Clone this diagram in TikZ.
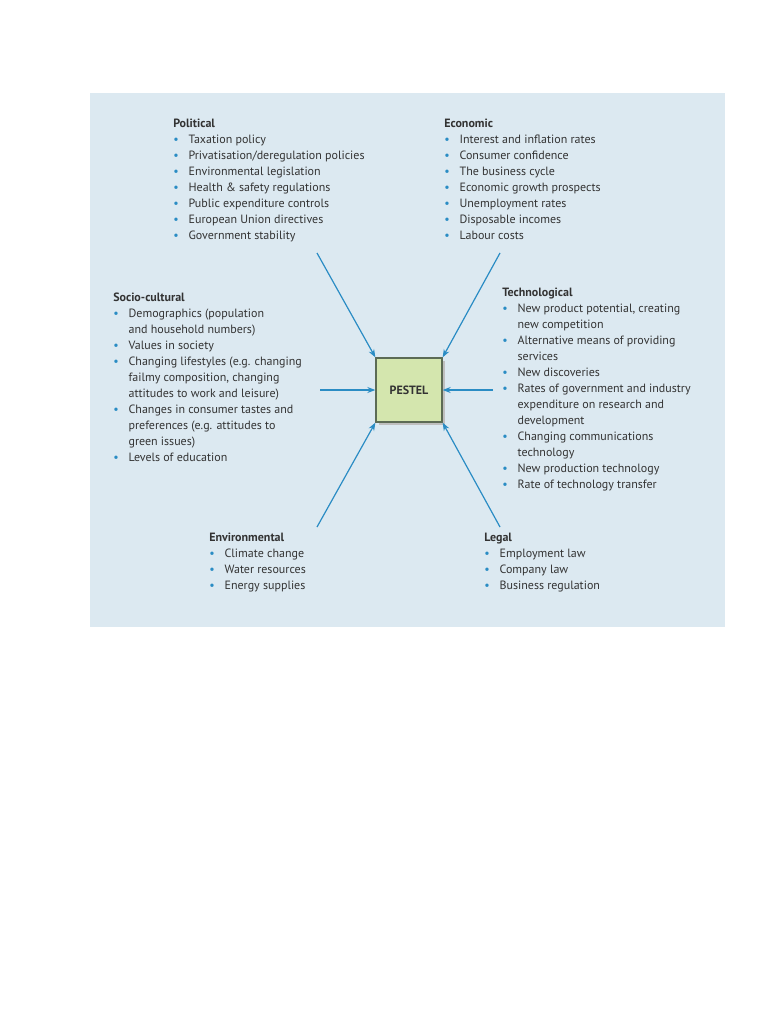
\documentclass[tikz,border=0pt]{standalone}
\usepackage{fontspec}
\setmainfont{PT Sans}
\usetikzlibrary{arrows.meta}
\definecolor{panel}{HTML}{DCE9F1}
\definecolor{bluel}{HTML}{2A8CC4}
\definecolor{boxg}{HTML}{D4E6AE}
\definecolor{boxb}{HTML}{5C6B55}
\definecolor{txt}{HTML}{333333}
\newcommand{\bl}[1]{\makebox[11.5pt][l]{\textcolor{bluel}{\raisebox{0.5pt}{\small•}}}#1}
\newcommand{\cl}[1]{\hspace*{11.5pt}#1}
\begin{document}
\begin{tikzpicture}[x=0.75pt,y=-0.75pt,
  blk/.style={anchor=north west,align=left,inner sep=0pt,font=\fontsize{9}{12}\selectfont,text=txt},
  arr/.style={-{Stealth[length=6pt,width=4.5pt]},draw=bluel,line width=0.9pt}]
\useasboundingbox (0,0) rectangle (768,1024);
\fill[white] (0,0) rectangle (768,1024);
\fill[panel] (90,93) rectangle (725,627);
\fill[black!25] (379,361) rectangle (445,425);
\node[draw=boxb,fill=boxg,line width=1pt,minimum width=49.5pt,minimum height=48pt,inner sep=0pt,font=\bfseries\fontsize{9}{11}\selectfont,text=black!80] (p) at (409,390) {PESTEL};
\node[blk] (pol) at (173,119) {\textbf{Political}\\\bl{Taxation policy}\\\bl{Privatisation/deregulation policies}\\\bl{Environmental legislation}\\\bl{Health \& safety regulations}\\\bl{Public expenditure controls}\\\bl{European Union directives}\\\bl{Government stability}};
\node[blk] (eco) at (444,119) {\textbf{Economic}\\\bl{Interest and inflation rates}\\\bl{Consumer confidence}\\\bl{The business cycle}\\\bl{Economic growth prospects}\\\bl{Unemployment rates}\\\bl{Disposable incomes}\\\bl{Labour costs}};
\node[blk] (soc) at (113,293) {\textbf{Socio-cultural}\\\bl{Demographics (population}\\\cl{and household numbers)}\\\bl{Values in society}\\\bl{Changing lifestyles (e.g. changing}\\\cl{failmy composition, changing}\\\cl{attitudes to work and leisure)}\\\bl{Changes in consumer tastes and}\\\cl{preferences (e.g. attitudes to}\\\cl{green issues)}\\\bl{Levels of education}};
\node[blk] (tec) at (502,288) {\textbf{Technological}\\\bl{New product potential, creating}\\\cl{new competition}\\\bl{Alternative means of providing}\\\cl{services}\\\bl{New discoveries}\\\bl{Rates of government and industry}\\\cl{expenditure on research and}\\\cl{development}\\\bl{Changing communications}\\\cl{technology}\\\bl{New production technology}\\\bl{Rate of technology transfer}};
\node[blk] (env) at (209,533) {\textbf{Environmental}\\\bl{Climate change}\\\bl{Water resources}\\\bl{Energy supplies}};
\node[blk] (leg) at (484,533) {\textbf{Legal}\\\bl{Employment law}\\\bl{Company law}\\\bl{Business regulation}};
\coordinate (a1) at (317,253); \coordinate (a2) at (500,253);
\coordinate (a3) at (320,390); \coordinate (a4) at (493,390);
\coordinate (a5) at (317,527); \coordinate (a6) at (500,527);
\draw[arr] (a1) -- (p.north west);
\draw[arr] (a2) -- (p.north east);
\draw[arr] (a3) -- (p.west);
\draw[arr] (a4) -- (p.east);
\draw[arr] (a5) -- (p.south west);
\draw[arr] (a6) -- (p.south east);
\end{tikzpicture}
\end{document}
